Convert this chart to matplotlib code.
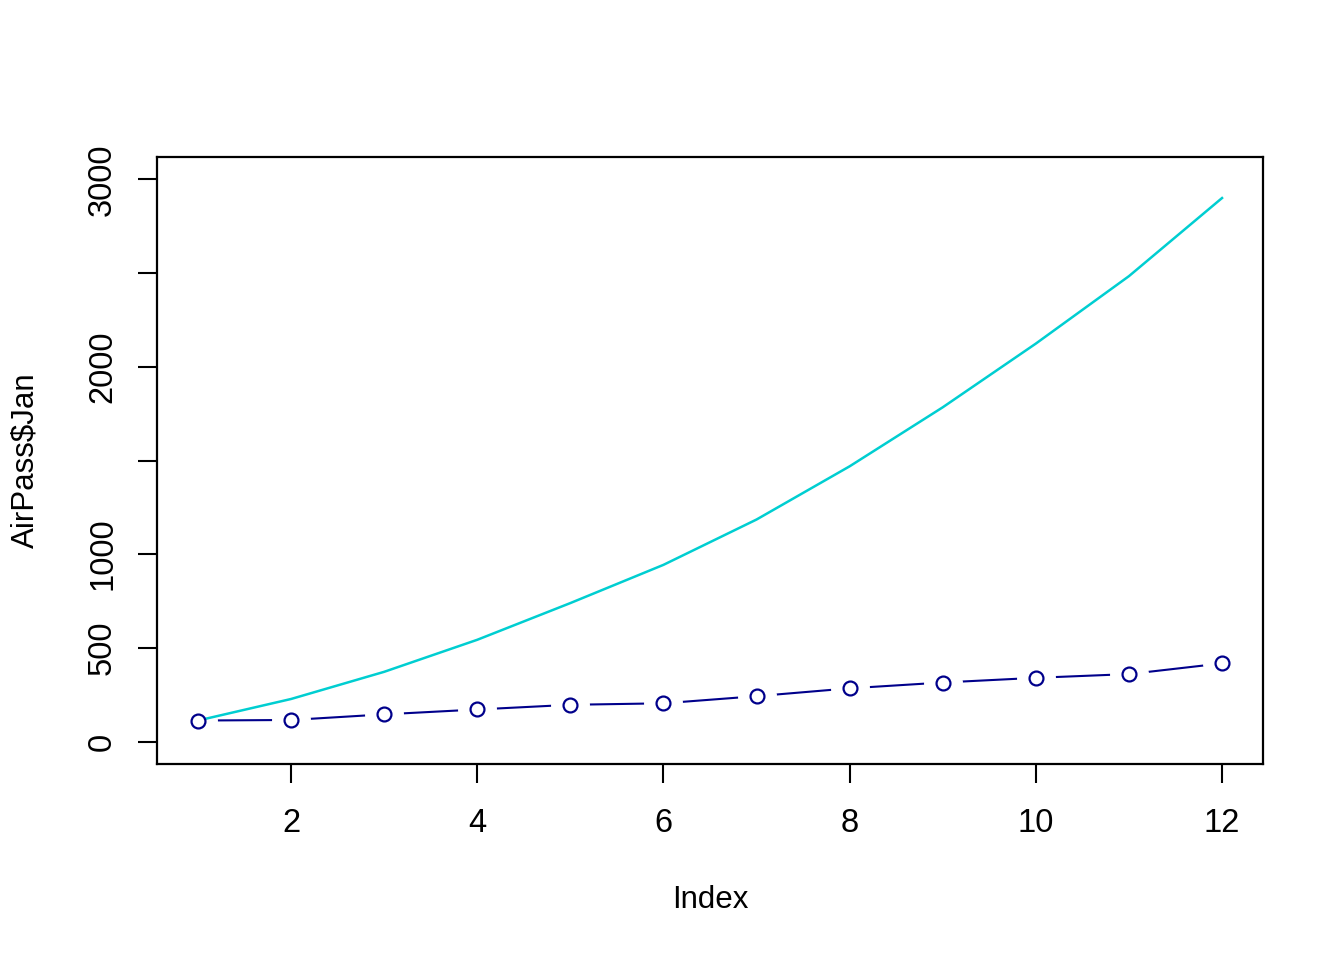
import numpy as np
import matplotlib
matplotlib.use("Agg")
import matplotlib.pyplot as plt

# January passengers 1949-1960 and their running total
index = np.arange(1, 13)
jan = [112, 115, 145, 171, 196, 204, 242, 284, 315, 340, 360, 417]
jan_cumsum = np.cumsum(jan)
yticks = [0, 500, 1000, 1500, 2000, 2500, 3000]
ytick_labels = ['0', '500', '1000', '', '2000', '', '3000']
xticks = [2, 4, 6, 8, 10, 12]

plt.rcParams['font.family'] = ['Liberation Sans', 'DejaVu Sans']

fig = plt.figure(figsize=(13.44, 9.6), dpi=100)
ax = fig.add_axes([157/1344, 1-764/960, (1263-157)/1344, (764-157)/960])

# R type="b": line with gaps around the points
ax.plot(index, jan, color='#00008B', lw=1.5, zorder=2)
ax.plot(index, jan, 'o', ms=27, mfc='white', mec='white', zorder=3)
ax.plot(index, jan_cumsum, color='#00CED1', lw=1.8, zorder=4)
ax.plot(index, jan, 'o', ms=10, mfc='white', mec='#00008B', mew=1.6, zorder=5)

# R style 4% axis extension, y limits c(0, 3000)
ax.set_xlim(1 - 11 * 0.04, 12 + 11 * 0.04)
ax.set_ylim(0 - 3000 * 0.04, 3000 + 3000 * 0.04)

ax.set_xticks(xticks)
ax.set_xticklabels([str(t) for t in xticks])
ax.set_yticks(yticks)
ax.set_yticklabels(ytick_labels, rotation=90, va='center')

ax.tick_params(axis='both', length=14, width=1.5, labelsize=23.5, color='black')
ax.tick_params(axis='x', pad=18)
ax.tick_params(axis='y', pad=14)
for s in ax.spines.values():
    s.set_linewidth(1.6)

ax.set_xlabel('Index', fontsize=22.5, va='center')
ax.xaxis.set_label_coords(0.5, (764-900)/607)
ax.set_ylabel('AirPass$Jan', fontsize=22.5, va='center')
ax.yaxis.set_label_coords((25-157)/1106, 0.5)

fig.savefig('out.png', dpi=100)
